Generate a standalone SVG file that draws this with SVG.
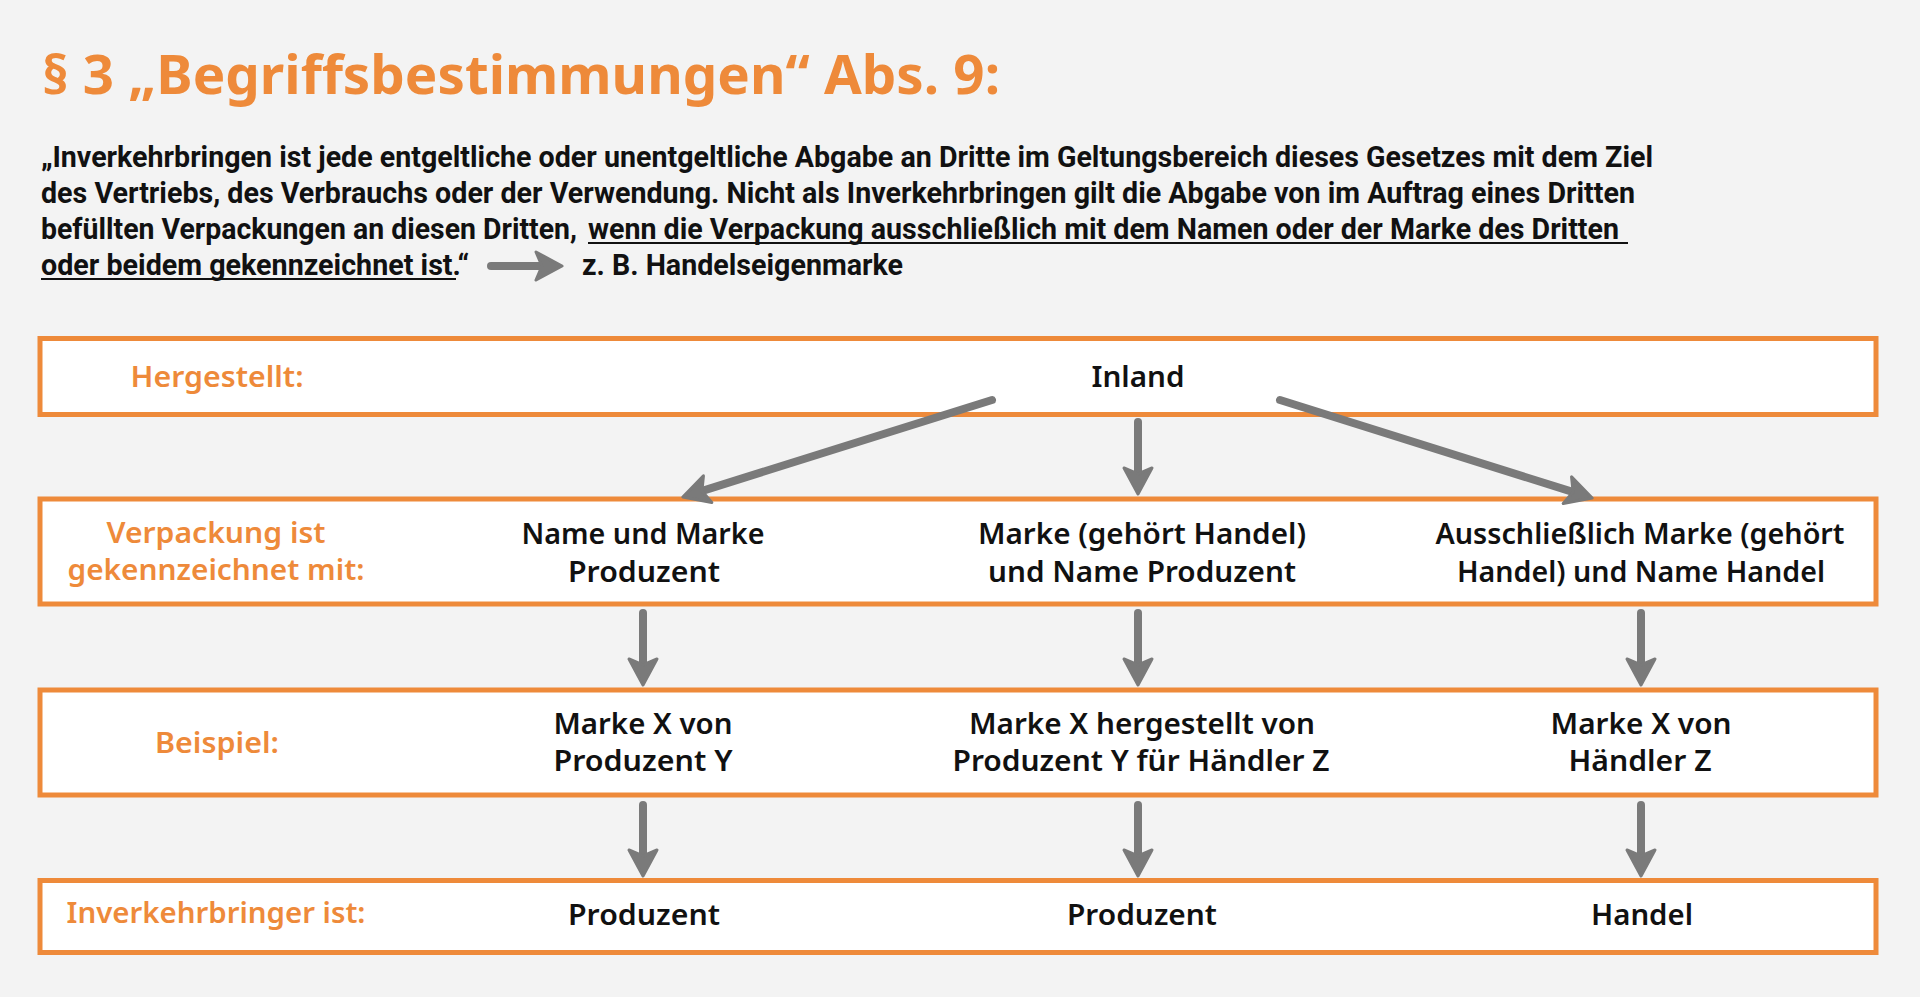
<svg xmlns="http://www.w3.org/2000/svg" width="1920" height="997" viewBox="0 0 1920 997">
<style>
.bg{fill:#f3f3f3}
.box{fill:#ffffff;stroke:#ee8a3a;stroke-width:5}
.lbl{font-family:"Noto Sans",sans-serif;font-weight:600;font-size:28px;fill:#ee8a3a;text-anchor:middle}
.val{font-family:"Noto Sans",sans-serif;font-weight:600;font-size:28px;fill:#111111;text-anchor:middle}
.par{font-family:Roboto,"Liberation Sans",sans-serif;font-weight:700;font-size:29px;fill:#111111}
.title{font-family:"Noto Sans",sans-serif;font-weight:700;font-size:53px;fill:#ee8a3a}
.arr{stroke:#7a7a7a;stroke-width:8;stroke-linecap:round;fill:none}
.ul{stroke:#111111;stroke-width:2}
</style>
<defs>
<marker id="ah" viewBox="-12 -18 34 36" refX="0" refY="0" markerWidth="34" markerHeight="36" markerUnits="userSpaceOnUse" orient="auto">
<path d="M18,0 L-8,-14 L-2,0 L-8,14 Z" fill="#7a7a7a" stroke="#7a7a7a" stroke-width="3" stroke-linejoin="round"/>
</marker>
</defs>
<rect class="bg" x="0" y="0" width="1920" height="997"/>

<g id="title">
<text class="title" x="42" y="94" textLength="958" lengthAdjust="spacingAndGlyphs">§ 3 „Begriffsbestimmungen“ Abs. 9:</text>
</g>

<g id="paragraph">
<text class="par" x="41" y="167" textLength="1612" lengthAdjust="spacingAndGlyphs">„Inverkehrbringen ist jede entgeltliche oder unentgeltliche Abgabe an Dritte im Geltungsbereich dieses Gesetzes mit dem Ziel</text>
<text class="par" x="41" y="203" textLength="1594" lengthAdjust="spacingAndGlyphs">des Vertriebs, des Verbrauchs oder der Verwendung. Nicht als Inverkehrbringen gilt die Abgabe von im Auftrag eines Dritten</text>
<text class="par" x="41" y="239" textLength="536" lengthAdjust="spacingAndGlyphs">befüllten Verpackungen an diesen Dritten,</text>
<text class="par" x="588" y="239" textLength="1031" lengthAdjust="spacingAndGlyphs">wenn die Verpackung ausschließlich mit dem Namen oder der Marke des Dritten</text>
<line class="ul" x1="588" y1="243" x2="1628" y2="243"/>
<text class="par" x="41" y="275" textLength="428" lengthAdjust="spacingAndGlyphs">oder beidem gekennzeichnet ist.“</text>
<line class="ul" x1="41" y1="279" x2="456" y2="279"/>
<text class="par" x="582" y="275" textLength="321" lengthAdjust="spacingAndGlyphs">z. B. Handelseigenmarke</text>
</g>

<g id="row-hergestellt">
<rect class="box" x="40" y="338.5" width="1836" height="76"/>
<text class="lbl" x="217" y="387" textLength="173" lengthAdjust="spacingAndGlyphs">Hergestellt:</text>
<text class="val" x="1138" y="387" textLength="93" lengthAdjust="spacingAndGlyphs">Inland</text>
</g>

<g id="row-verpackung">
<rect class="box" x="40" y="499" width="1836" height="105"/>
<text class="lbl" x="216" y="543" textLength="219" lengthAdjust="spacingAndGlyphs">Verpackung ist</text>
<text class="lbl" x="216" y="580" textLength="297" lengthAdjust="spacingAndGlyphs">gekennzeichnet mit:</text>
<text class="val" x="643" y="544" textLength="243" lengthAdjust="spacingAndGlyphs">Name und Marke</text>
<text class="val" x="644" y="582" textLength="152" lengthAdjust="spacingAndGlyphs">Produzent</text>
<text class="val" x="1142" y="544" textLength="328" lengthAdjust="spacingAndGlyphs">Marke (gehört Handel)</text>
<text class="val" x="1142" y="582" textLength="308" lengthAdjust="spacingAndGlyphs">und Name Produzent</text>
<text class="val" x="1640" y="544" textLength="409" lengthAdjust="spacingAndGlyphs">Ausschließlich Marke (gehört</text>
<text class="val" x="1641" y="582" textLength="368" lengthAdjust="spacingAndGlyphs">Handel) und Name Handel</text>
</g>

<g id="row-beispiel">
<rect class="box" x="40" y="690" width="1836" height="105"/>
<text class="lbl" x="217" y="753" textLength="124" lengthAdjust="spacingAndGlyphs">Beispiel:</text>
<text class="val" x="643" y="734" textLength="179" lengthAdjust="spacingAndGlyphs">Marke X von</text>
<text class="val" x="643" y="771" textLength="179" lengthAdjust="spacingAndGlyphs">Produzent Y</text>
<text class="val" x="1142" y="734" textLength="346" lengthAdjust="spacingAndGlyphs">Marke X hergestellt von</text>
<text class="val" x="1141" y="771" textLength="377" lengthAdjust="spacingAndGlyphs">Produzent Y für Händler Z</text>
<text class="val" x="1641" y="734" textLength="181" lengthAdjust="spacingAndGlyphs">Marke X von</text>
<text class="val" x="1640" y="771" textLength="143" lengthAdjust="spacingAndGlyphs">Händler Z</text>
</g>

<g id="row-inverkehrbringer">
<rect class="box" x="40" y="880.5" width="1836" height="72"/>
<text class="lbl" x="216" y="923" textLength="299" lengthAdjust="spacingAndGlyphs">Inverkehrbringer ist:</text>
<text class="val" x="644" y="925" textLength="152" lengthAdjust="spacingAndGlyphs">Produzent</text>
<text class="val" x="1142" y="925" textLength="150" lengthAdjust="spacingAndGlyphs">Produzent</text>
<text class="val" x="1642" y="925" textLength="102" lengthAdjust="spacingAndGlyphs">Handel</text>
</g>

<g id="connectors">
<line class="arr" x1="491" y1="266" x2="544" y2="266" marker-end="url(#ah)"/>
<line class="arr" x1="992" y1="400" x2="700" y2="491.6" marker-end="url(#ah)"/>
<line class="arr" x1="1138" y1="422" x2="1138" y2="476" marker-end="url(#ah)"/>
<line class="arr" x1="1280" y1="400" x2="1575" y2="492.6" marker-end="url(#ah)"/>
<line class="arr" x1="643" y1="613" x2="643" y2="667" marker-end="url(#ah)"/>
<line class="arr" x1="1138" y1="613" x2="1138" y2="667" marker-end="url(#ah)"/>
<line class="arr" x1="1641" y1="613" x2="1641" y2="667" marker-end="url(#ah)"/>
<line class="arr" x1="643" y1="805" x2="643" y2="858" marker-end="url(#ah)"/>
<line class="arr" x1="1138" y1="805" x2="1138" y2="858" marker-end="url(#ah)"/>
<line class="arr" x1="1641" y1="805" x2="1641" y2="858" marker-end="url(#ah)"/>
</g>
</svg>
